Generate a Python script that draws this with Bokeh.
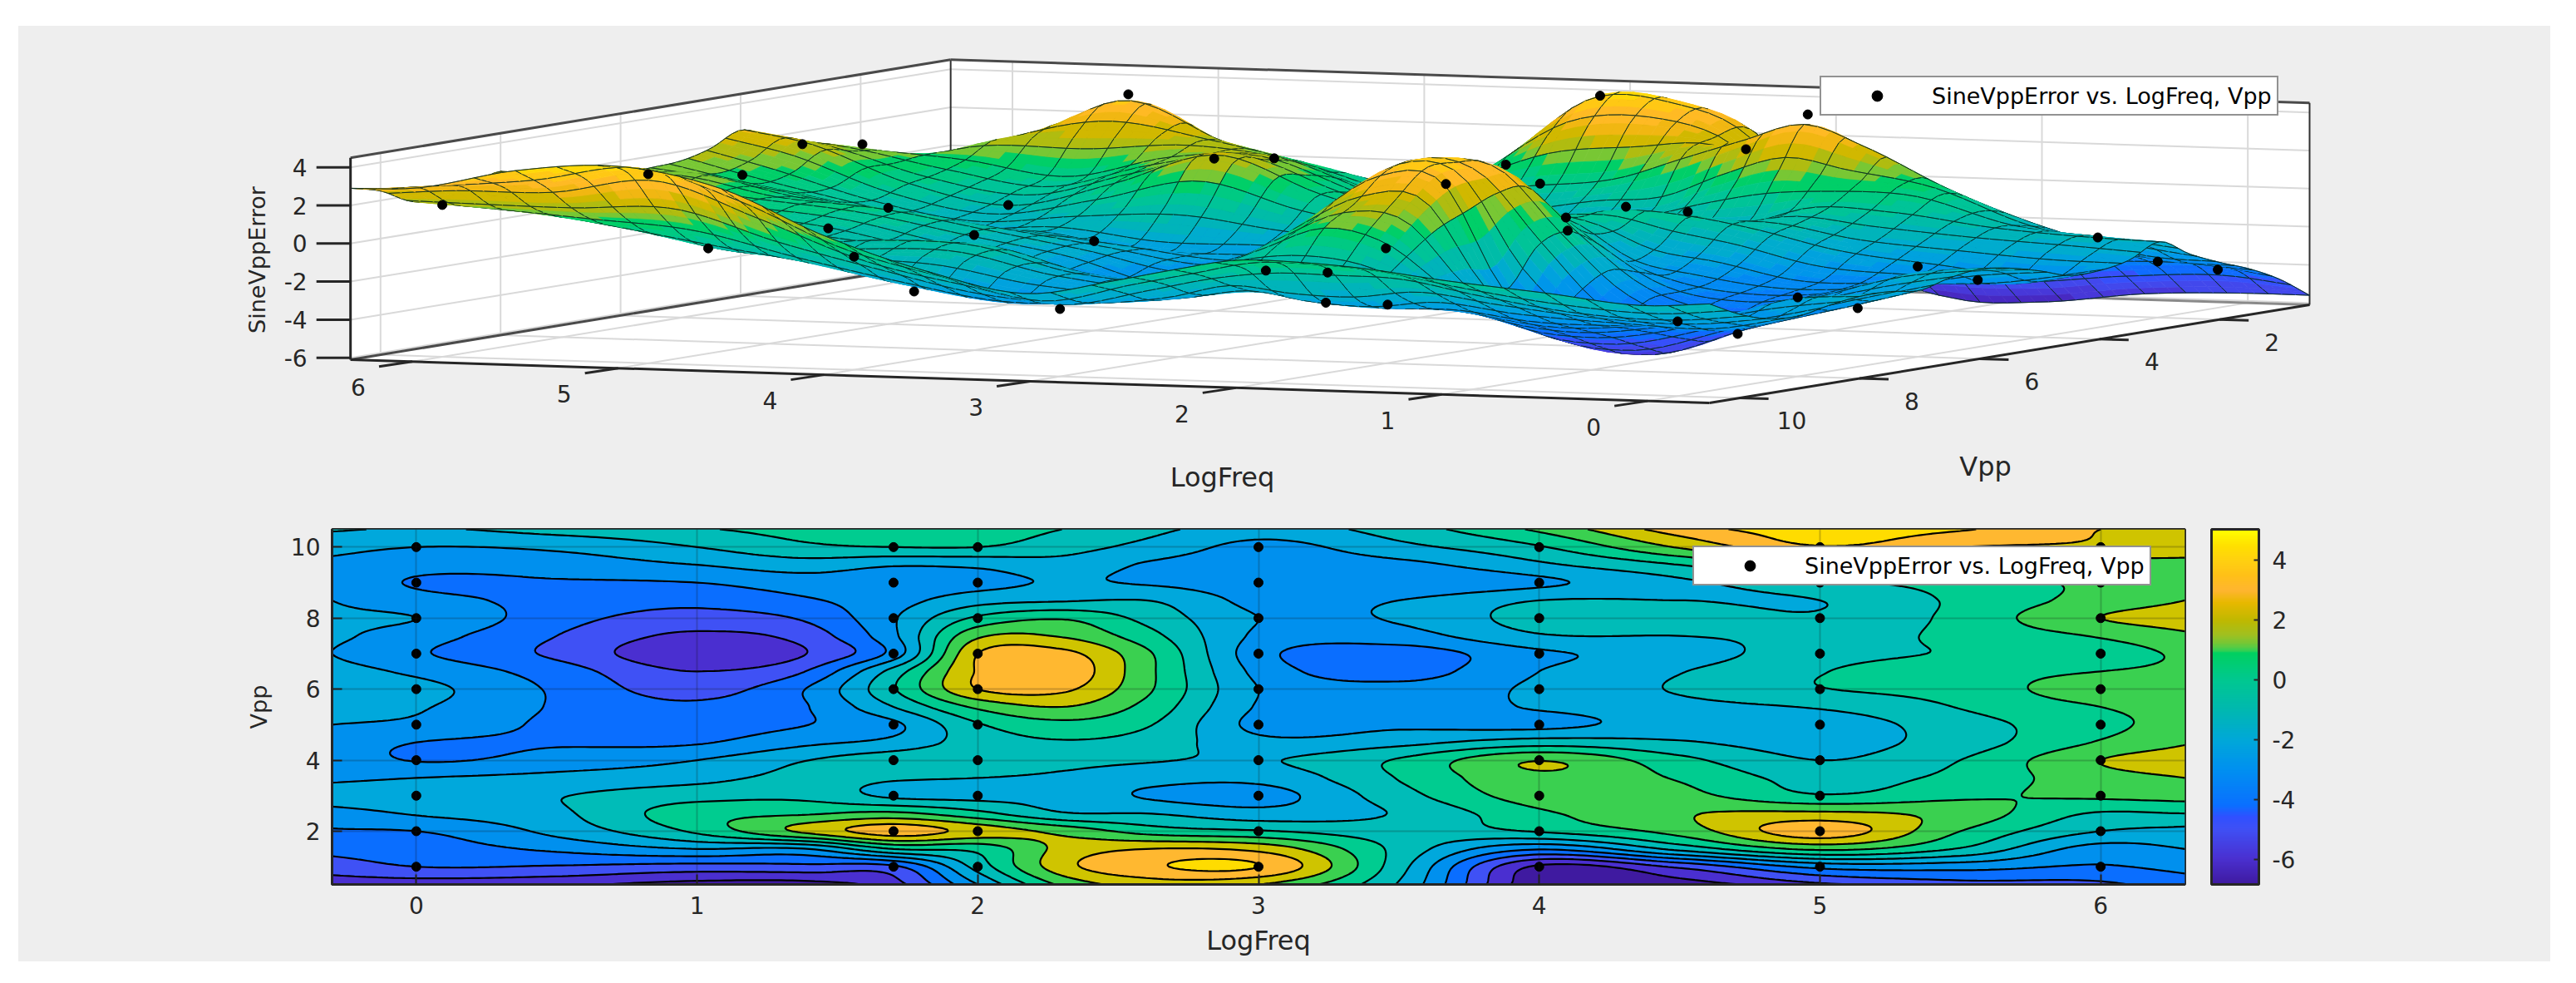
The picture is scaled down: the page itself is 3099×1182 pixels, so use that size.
import numpy as np
from bokeh.core.properties import value
from bokeh.embed import file_html
from bokeh.layouts import column
from bokeh.models import (ColorBar, ColumnDataSource, FixedTicker, Legend, LegendItem,
                          LinearColorMapper, Range1d)
from bokeh.plotting import figure
from bokeh.resources import INLINE

# ---------- values ----------
VPP_ROWS = [0.5, 1, 1.5, 2, 2.5, 3, 3.5, 4, 4.5, 5, 5.5, 6, 6.5, 7, 7.5, 8, 8.5, 9, 9.5, 10, 10.5]
LOGFREQ_COLS = [-0.3, 0, 0.5, 1, 1.4, 1.7, 2, 2.3, 2.6, 3, 3.5, 4, 4.5, 5, 5.5, 6, 6.3]
Z_L_M03 = [-5.6,-4.5,-3.7,-3.1,-2.4,-1.5,-2.2,-2.5,-2.5,-2.0,-1.6,-1.4,-1.6,-2.0,-1.8,-1.8,-2.0,-2.3,-2.2,-1.7,-0.9]
Z_L_00 = [-5.6,-4.0,-3.5,-3.0,-1.9,-1.4,-2.0,-3.05,-3.0,-2.2,-1.9,-1.7,-2.2,-2.85,-2.5,-2.0,-2.6,-3.1,-2.6,-2.0,-1.1]
Z_L_05 = [-5.8,-4.1,-2.8,-1.7,-1.2,-1.05,-1.7,-2.6,-3.1,-3.2,-3.1,-3.15,-3.5,-4.2,-4.0,-3.6,-3.3,-3.1,-2.5,-1.8,-0.6]
Z_L_10 = [-6.4,-4.4,-2.0,0.2,0.6,-0.4,-1.3,-2.0,-3.1,-3.5,-3.8,-4.4,-5.0,-5.8,-5.2,-4.4,-3.7,-3.0,-2.0,-1.0,-0.1]
Z_L_14 = [-6.4,-4.3,-2.0,2.3,0.9,-0.3,-0.7,-1.0,-2.2,-3.0,-3.0,-2.9,-3.9,-4.95,-4.5,-3.8,-3.1,-2.5,-1.5,-0.2,0.4]
Z_L_17 = [-5.4,-4.2,0.0,3.5,1.2,-1.2,-0.9,-0.4,-1.7,-2.2,-1.0,-0.1,-0.6,-2.6,-2.2,-2.1,-2.4,-2.6,-1.9,0.0,0.6]
Z_L_20 = [-2.0,-0.6,0.3,2.6,0.3,-1.3,-1.0,-0.1,-0.5,-0.1,1.2,3.0,3.1,3.0,1.8,0.2,-1.4,-2.3,-1.8,0.0,0.6]
Z_L_23 = [1.2,2.6,2.3,1.7,-0.9,-1.3,-1.2,-0.6,-0.1,0.7,2.0,3.2,3.7,3.3,1.9,0.9,-1.1,-1.9,-1.4,-0.6,0.0]
Z_L_26 = [2.4,3.8,3.0,0.6,-1.0,-2.1,-1.6,-0.9,-0.4,0.1,0.7,1.2,1.3,1.2,0.4,-0.3,-1.0,-2.1,-2.1,-1.3,-0.7]
Z_L_30 = [2.0,4.0,2.7,0.1,-1.6,-2.4,-1.7,-1.1,-1.7,-2.3,-2.1,-2.0,-2.3,-2.6,-2.2,-2.0,-2.3,-2.6,-2.5,-2.3,-1.5]
Z_L_35 = [-1.1,-0.6,-0.3,-0.5,-0.9,-0.4,0.05,0.1,-1.3,-2.2,-2.5,-2.7,-3.4,-3.5,-2.4,-1.9,-2.0,-2.9,-2.3,-1.3,-0.5]
Z_L_40 = [-6.8,-6.2,-2.9,0.1,0.8,1.5,1.8,1.95,-0.5,-2.3,-1.9,-1.8,-2.0,-2.2,-1.1,-0.6,-1.0,-2.2,-1.2,-0.1,1.2]
Z_L_45 = [-6.5,-4.8,-0.7,1.4,1.9,1.3,0.9,0.3,-0.9,-1.5,-1.3,-0.9,-1.05,-1.5,-1.0,-0.5,-1.0,-1.2,0.0,2.1,3.5]
Z_L_50 = [-5.2,-2.7,1.2,3.6,2.2,0.1,-0.4,-1.0,-1.4,-1.6,-0.9,-0.05,-0.05,-0.4,-0.7,-0.9,-1.0,-0.3,1.5,3.9,4.5]
Z_L_55 = [-4.4,-2.6,-0.1,1.0,1.6,0.8,0.3,0.0,-0.5,-0.4,0.05,0.4,0.5,0.1,0.3,0.3,0.2,0.5,1.5,3.0,4.1]
Z_L_60 = [-4.2,-3.1,-2.4,-1.0,-0.1,1.2,1.6,2.0,1.1,0.7,1.0,1.5,1.0,0.5,1.1,2.0,1.4,1.2,1.6,2.8,3.0]
Z_L_63 = [-3.5,-2.7,-2.0,-1.3,0.0,1.4,2.0,2.6,1.9,1.5,1.4,1.3,1.2,1.2,1.8,2.5,2.0,1.5,1.7,2.5,2.9]

# Measured points: one value per Vpp = 1..10, and whether the 3-D view shows it (the surface hides the rest)
POINT_VPP = [1, 2, 3, 4, 5, 6, 7, 8, 9, 10]
POINT_LOGFREQ = [0, 1.7, 2, 3, 4, 5, 6]
POINT_Z_L0 = [-4.1, -3.16, -1.38, -3.0, -2.58, -1.36, -3.03, -1.95, -3.35, -2.18]
POINT_Z_L17 = [-4.2, 3.98, -1.2, -0.1, -2.2, -0.06, -2.6, -2.1, -2.4, -0.2]
POINT_Z_L2 = [-0.6, 2.05, -1.3, 0.06, 0.01, 3.3, 2.8, -0.06, -2.4, -0.2]
POINT_Z_L3 = [4.0, -0.1, -2.4, -1.1, -2.3, -2.0, -2.6, -2.0, -2.6, -2.56]
POINT_Z_L4 = [-6.2, 0.1, 1.4, 1.9, -2.3, -1.4, -2.2, -0.05, -2.5, -0.16]
POINT_Z_L5 = [-2.7, 3.9, 0.1, -0.88, -1.6, 0.0, -0.56, -0.9, -0.58, 3.83]
POINT_Z_L6 = [-3.1, -1.0, 1.45, 1.97, 0.87, 1.5, 0.5, 2.0, 1.2, 1.87]
SEEN_L0 = [1, 1, 1, 0, 1, 1, 1, 1, 1, 1]
SEEN_L17 = [0, 1, 0, 1, 0, 1, 0, 0, 1, 1]
SEEN_L2 = [0, 1, 0, 1, 1, 1, 1, 1, 1, 1]
SEEN_L3 = [1, 1, 0, 0, 0, 0, 0, 0, 0, 1]
SEEN_L4 = [0, 0, 1, 1, 0, 1, 0, 1, 1, 1]
SEEN_L5 = [0, 1, 0, 1, 0, 1, 1, 0, 1, 1]
SEEN_L6 = [0, 0, 1, 1, 1, 0, 0, 0, 0, 1]
LEGEND_LABEL = "SineVppError vs. LogFreq, Vpp"

LEVELS = [-7, -6, -5, -4, -3, -2, -1, 0, 1, 2, 3, 4, 5]
BAND_COLORS = ["#3f1aa0", "#4a2fd0", "#3f51f5", "#0a6eff", "#0090ee", "#00a8dc",
               "#00bcb8", "#00cc90", "#3ad050", "#cfc400", "#ffb830", "#ffdc00"]
CBAR_VALUES = [-6.84, -6, -5, -4.6, -4.2, -3, -2, -1, 0, 0.9, 1.0, 1.2, 1.5, 2, 2.6, 3, 3.5, 4, 4.5, 5.03]
CBAR_COLORS = ["#3f1aa0", "#4a30d0", "#3f50f5", "#3050ff", "#0a70ff", "#0090f0", "#00a8d8", "#00b8b0",
               "#00c890", "#00d060", "#3dcf50", "#70c838", "#a0c020", "#c0b800", "#e8b800", "#ffb530",
               "#ffc018", "#ffd010", "#ffe000", "#ffff00"]

FONT = "DejaVu Sans"
INK = "#262626"
PANEL = "#eeeeee"

# Page geometry of the two axes (screen pixels of the window)
PAGE_L, PAGE_R, PAGE_T, SPLIT, PAGE_B = 22, 3068, 31, 612, 1156
FRAME_L, FRAME_R, FRAME_T, FRAME_B = 399, 2628, 636, 1063

# Orthographic view of the 3-D axes
L_MIN, L_MAX, V_MIN, V_MAX, Z_MIN, Z_MAX = -0.3, 6.3, 0.5, 10.5, -6.1, 4.5
ORIGIN = (2056.0, 484.0)
PER_L = (-247.7, -7.88)
PER_V = (-72.2, 11.8)
PER_Z = -22.9


def project(L, V, Z):
    L, V, Z = np.broadcast_arrays(np.asarray(L, float), np.asarray(V, float), np.asarray(Z, float))
    a, b = L - L_MIN, V - V_MAX
    return (ORIGIN[0] + a * PER_L[0] + b * PER_V[0],
            ORIGIN[1] + a * PER_L[1] + b * PER_V[1] + (Z - Z_MIN) * PER_Z)


def smooth(xs, ys, q):
    """Cubic Hermite resampling along axis 0, used to render the hand-read grid smoothly."""
    xs = np.asarray(xs, float)
    h = np.diff(xs)
    shape = (-1,) + (1,) * (ys.ndim - 1)
    d = np.diff(ys, axis=0) / h.reshape(shape)
    m = np.zeros_like(ys)
    m[0], m[-1] = d[0], d[-1]
    h0, h1 = h[:-1].reshape(shape), h[1:].reshape(shape)
    m[1:-1] = (h0 * d[1:] + h1 * d[:-1]) / (h0 + h1)
    i = np.clip(np.searchsorted(xs, q, side="right") - 1, 0, len(xs) - 2)
    t = ((q - xs[i]) / h[i]).reshape(shape)
    hh = h[i].reshape(shape)
    return ((2*t**3 - 3*t**2 + 1) * ys[i] + (t**3 - 2*t**2 + t) * hh * m[i]
            + (-2*t**3 + 3*t**2) * ys[i + 1] + (t**3 - t**2) * hh * m[i + 1])


Z_GRID = np.array([Z_L_M03, Z_L_00, Z_L_05, Z_L_10, Z_L_14, Z_L_17, Z_L_20, Z_L_23, Z_L_26,
                   Z_L_30, Z_L_35, Z_L_40, Z_L_45, Z_L_50, Z_L_55, Z_L_60, Z_L_63])


def resample(ql, qv):
    return np.clip(smooth(VPP_ROWS, smooth(LOGFREQ_COLS, Z_GRID, ql).T, qv).T, -6.84, 4.95)


FINE_L = np.linspace(L_MIN, L_MAX, 331)
FINE_V = np.linspace(V_MIN, V_MAX, 241)
FINE_Z = resample(FINE_L, FINE_V)

CBAR_RGB = np.array([[int(c[i:i + 2], 16) for i in (1, 3, 5)] for c in CBAR_COLORS], float)


def cbar_color(z):
    return "#%02x%02x%02x" % tuple(int(round(np.interp(z, CBAR_VALUES, CBAR_RGB[:, k]))) for k in range(3))


def surface_color(z):
    """Stepped colormap of the 3-D surface, in half-unit steps of the colorbar."""
    return cbar_color(np.floor(z * 2) / 2 + 0.25)


POINT_TABLE = [(0, POINT_Z_L0, SEEN_L0), (1.7, POINT_Z_L17, SEEN_L17), (2, POINT_Z_L2, SEEN_L2),
               (3, POINT_Z_L3, SEEN_L3), (4, POINT_Z_L4, SEEN_L4), (5, POINT_Z_L5, SEEN_L5),
               (6, POINT_Z_L6, SEEN_L6)]
px, py, seen_l, seen_v, seen_z = [], [], [], [], []
for L, zs, seen in POINT_TABLE:
    for V, z, s in zip(POINT_VPP, zs, seen):
        px.append(L)
        py.append(V)
        if s:
            seen_l.append(L)
            seen_v.append(V)
            seen_z.append(z)


# ---------- 3-D panel ----------
p1 = figure(frame_width=PAGE_R - PAGE_L, frame_height=SPLIT - PAGE_T, output_backend="svg", toolbar_location=None,
            x_range=Range1d(PAGE_L, PAGE_R), y_range=Range1d(SPLIT, PAGE_T),
            min_border=0, x_axis_type=None, y_axis_type=None,
            background_fill_color=PANEL, border_fill_color=PANEL, outline_line_color=None)
p1.grid.visible = False

corners = {"A": (L_MAX, V_MAX), "B": (L_MIN, V_MAX), "C": (L_MIN, V_MIN), "D": (L_MAX, V_MIN)}
def pt(name, z):
    return project(corners[name][0], corners[name][1], z)
def poly(*items):
    xy = [pt(n, z) for n, z in items]
    return [float(a) for a, _ in xy], [float(b) for _, b in xy]

for items in ([("A", Z_MIN), ("B", Z_MIN), ("C", Z_MIN), ("D", Z_MIN)],
              [("A", Z_MIN), ("D", Z_MIN), ("D", Z_MAX), ("A", Z_MAX)],
              [("D", Z_MIN), ("C", Z_MIN), ("C", Z_MAX), ("D", Z_MAX)]):
    xs, ys = poly(*items)
    p1.patch(xs, ys, fill_color="white", line_color=None)

Z_TICKS = [-6, -4, -2, 0, 2, 4]
L_TICKS = [0, 1, 2, 3, 4, 5, 6]
V_TICKS = [2, 4, 6, 8, 10]
GRID3D = "#d9d9d9"


def seg(a, b, color=GRID3D, width=2):
    p1.line([float(a[0]), float(b[0])], [float(a[1]), float(b[1])], line_color=color, line_width=width)


for z in Z_TICKS:
    seg(project(L_MAX, V_MAX, z), project(L_MAX, V_MIN, z))
    seg(project(L_MAX, V_MIN, z), project(L_MIN, V_MIN, z))
for L in L_TICKS:
    seg(project(L, V_MAX, Z_MIN), project(L, V_MIN, Z_MIN))
    seg(project(L, V_MIN, Z_MIN), project(L, V_MIN, Z_MAX))
for V in V_TICKS:
    seg(project(L_MIN, V, Z_MIN), project(L_MAX, V, Z_MIN))
    seg(project(L_MAX, V, Z_MIN), project(L_MAX, V, Z_MAX))

# back edges of the box
seg(pt("A", Z_MIN), pt("D", Z_MIN), "#4a4a4a", 3)
seg(pt("D", Z_MIN), pt("C", Z_MIN), "#8a8a8a", 3)
seg(pt("D", Z_MIN), pt("D", Z_MAX), "#303030", 2)
seg(pt("A", Z_MAX), pt("D", Z_MAX), "#4a4a4a", 3)
seg(pt("D", Z_MAX), pt("C", Z_MAX), "#4a4a4a", 3)
seg(pt("C", Z_MIN), pt("C", Z_MAX), "#303030", 2)

# surface: each mesh cell is split so the stepped colors follow the height inside it;
# everything is painted from the far corner towards the viewer, mesh lines included
MESH_NL, MESH_NV, SUB = 33, 32, 3
SUB_L = np.linspace(L_MIN, L_MAX, MESH_NL * SUB + 1)
SUB_V = np.linspace(V_MIN, V_MAX, MESH_NV * SUB + 1)
SUB_Z = resample(SUB_L, SUB_V)
SX, SY = project(SUB_L[:, None], SUB_V[None, :], SUB_Z)
EDGE = "#06281f"
qx, qy, qf, ql, qw, qa = [], [], [], [], [], []


def add_edge(i0, j0, i1, j1):
    qx.append([float(SX[i0, j0]), float(SX[i1, j1])])
    qy.append([float(SY[i0, j0]), float(SY[i1, j1])])
    qf.append(EDGE)
    ql.append(EDGE)
    qw.append(1.0)
    qa.append(0.7)


last_i, last_j = len(SUB_L) - 1, len(SUB_V) - 1
for i in range(last_i - 1, -1, -1):
    for j in range(last_j):
        c = surface_color(SUB_Z[i:i + 2, j:j + 2].mean())
        qx.append([float(SX[i, j]), float(SX[i + 1, j]), float(SX[i + 1, j + 1]), float(SX[i, j + 1])])
        qy.append([float(SY[i, j]), float(SY[i + 1, j]), float(SY[i + 1, j + 1]), float(SY[i, j + 1])])
        qf.append(c)
        ql.append(c)
        qw.append(0.7)
        qa.append(1.0)
        if j % SUB == 0:
            add_edge(i, j, i + 1, j)
        if (i + 1) % SUB == 0:
            add_edge(i + 1, j, i + 1, j + 1)
        if j + 1 == last_j:
            add_edge(i, j + 1, i + 1, j + 1)
        if i == 0:
            add_edge(i, j, i, j + 1)
p1.patches(xs="x", ys="y", fill_color="f", line_color="l", line_width="w", line_alpha="a",
           source=ColumnDataSource(dict(x=qx, y=qy, f=qf, l=ql, w=qw, a=qa)))

# measured points that the surface leaves in view
vx, vy = project(seen_l, seen_v, seen_z)
r1 = p1.scatter(vx.tolist(), vy.tolist(), size=11, color="black")

# front axes, ticks, labels
seg(pt("A", Z_MIN), pt("B", Z_MIN), INK, 3)
seg(pt("B", Z_MIN), pt("C", Z_MIN), INK, 3)
seg(pt("A", Z_MIN), pt("A", Z_MAX), INK, 3)


def text3d(xs, ys, labels, size, **kw):
    p1.text(xs, ys, text=labels, text_font=value(FONT), text_font_size=value(size), text_color=INK,
            text_align=kw.pop("align", "center"), text_baseline="middle", **kw)


lx, ly = project(L_TICKS, V_MAX, Z_MIN)
for a, b in zip(lx, ly):
    seg((a, b), (a - 40, b + 6), INK, 3)
text3d((lx - 65).tolist(), (ly + 31).tolist(), [str(v) for v in L_TICKS], "28px")
vx2, vy2 = project(L_MIN, np.array(V_TICKS), Z_MIN)
for a, b in zip(vx2, vy2):
    seg((a, b), (a + 35, b + 1), INK, 3)
text3d((vx2 + 63).tolist(), (vy2 + 27).tolist(), [str(v) for v in V_TICKS], "28px")
zx, zy = project(L_MAX, V_MAX, np.array(Z_TICKS))
for a, b in zip(zx, zy):
    seg((a, b), (a - 41, b), INK, 3)
text3d((zx - 52).tolist(), zy.tolist(), [str(v) for v in Z_TICKS], "28px", align="right")

text3d([1470.0], [573.0], ["LogFreq"], "32px")
text3d([2388.0], [560.0], ["Vpp"], "32px")
text3d([309.0], [312.0], ["SineVppError"], "27px", angle=np.pi / 2)


def styled_legend(fig, renderer, loc):
    leg = Legend(items=[LegendItem(label=LEGEND_LABEL, renderers=[renderer])], location=loc,
                 padding=6, margin=0, spacing=0, glyph_width=122, glyph_height=32, label_standoff=5,
                 label_height=32, label_text_font=FONT, label_text_font_size="27px", label_text_color="black",
                 background_fill_color="white", background_fill_alpha=1.0,
                 border_line_color=INK, border_line_width=2)
    fig.add_layout(leg, "center")


styled_legend(p1, r1, (2189 - PAGE_L, SPLIT - 139))

# ---------- contour panel ----------
p2 = figure(frame_width=FRAME_R - FRAME_L, frame_height=FRAME_B - FRAME_T, output_backend="svg", toolbar_location=None,
            x_range=Range1d(L_MIN, L_MAX), y_range=Range1d(V_MIN, V_MAX),
            min_border_left=FRAME_L - PAGE_L, min_border_right=PAGE_R - FRAME_R,
            min_border_top=FRAME_T - SPLIT, min_border_bottom=PAGE_B - FRAME_B,
            x_axis_label="LogFreq", y_axis_label="Vpp",
            background_fill_color="white", border_fill_color=PANEL,
            outline_line_color=INK, outline_line_width=3)
p2.contour(FINE_L, FINE_V, FINE_Z.T, levels=LEVELS, fill_color=BAND_COLORS, line_color="black", line_width=2.2)
r2 = p2.scatter(px, py, size=11, color="black")

for ax, ticks in ((p2.xaxis, L_TICKS), (p2.yaxis, V_TICKS)):
    ax.ticker = FixedTicker(ticks=ticks)
    ax.major_tick_in, ax.major_tick_out, ax.minor_tick_in, ax.minor_tick_out = 12, 0, 0, 0
    ax.axis_line_color = INK
    ax.axis_line_width = 3
    ax.major_tick_line_color = INK
    ax.major_tick_line_width = 2
    ax.major_label_text_font = FONT
    ax.major_label_text_font_size = "28px"
    ax.major_label_text_color = INK
    ax.axis_label_text_font = FONT
    ax.axis_label_text_font_style = "normal"
    ax.axis_label_text_font_size = "32px"
    ax.axis_label_text_color = INK
p2.xaxis.major_label_standoff = 14
p2.xaxis.axis_label_standoff = 10
p2.yaxis.major_label_standoff = 14
p2.yaxis.axis_label_standoff = 20
p2.yaxis.axis_label_text_font_size = "27px"
p2.xgrid.ticker = FixedTicker(ticks=L_TICKS)
p2.ygrid.ticker = FixedTicker(ticks=V_TICKS)
for g in (p2.xgrid, p2.ygrid):
    g.level = "overlay"
    g.grid_line_color = "#101010"
    g.grid_line_alpha = 0.22
    g.grid_line_width = 2

styled_legend(p2, r2, (2036 - FRAME_L, FRAME_B - 704))

palette = [cbar_color(s) for s in np.linspace(CBAR_VALUES[0], CBAR_VALUES[-1], 256)]
mapper = LinearColorMapper(palette=palette, low=CBAR_VALUES[0], high=CBAR_VALUES[-1])
cb = ColorBar(color_mapper=mapper, ticker=FixedTicker(ticks=Z_TICKS), width=57, height=FRAME_B - FRAME_T,
              location=(2660 - FRAME_L, 0), padding=0, margin=0,
              major_label_overrides={t: str(t) for t in Z_TICKS},
              major_label_text_font=FONT, major_label_text_font_size="28px", major_label_text_color=INK,
              major_tick_in=6, major_tick_line_color=INK, major_tick_line_width=2, minor_tick_line_color=None,
              label_standoff=16, bar_line_color=INK, bar_line_width=3,
              background_fill_alpha=0, border_line_color=None)
p2.add_layout(cb, "center")

page = column(column(p1), column(p2), spacing=0, margin=(31, 0, 0, 22), styles={"background": PANEL})
open("out.html", "w").write(file_html(page, INLINE))
